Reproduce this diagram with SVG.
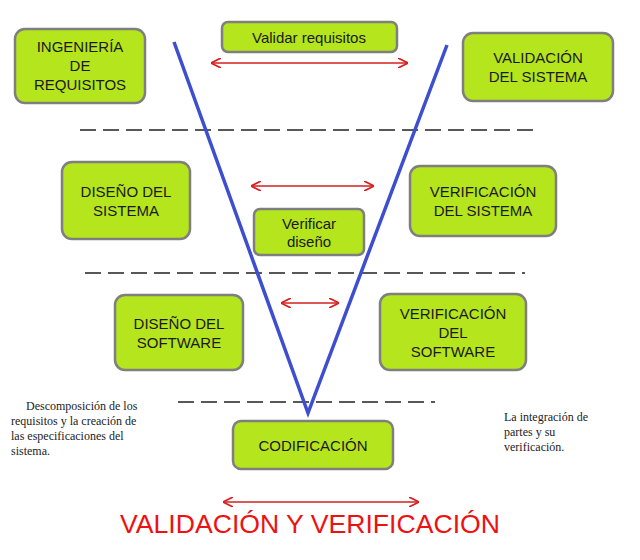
<svg xmlns="http://www.w3.org/2000/svg" width="640" height="560" viewBox="0 0 640 560">
<style>
.n{fill:#b5e51d;stroke:#7f7f7f;stroke-width:2.5}
.t{font-family:"Liberation Sans",Arial,sans-serif;font-size:15px;text-anchor:middle;fill:#1a1a1a}
.d{stroke:#222;stroke-width:1.3;stroke-dasharray:16,7;fill:none}
.a{stroke:#d42020;stroke-width:1.5;fill:none;marker-start:url(#m);marker-end:url(#m)}
.s{font-family:"Liberation Serif","Times New Roman",serif;font-size:12px;fill:#222}
</style>
<defs><marker id="m" viewBox="0 0 10 10" refX="9" refY="5" markerWidth="7" markerHeight="7" orient="auto-start-reverse"><path d="M0,0L10,5L0,10" fill="none" stroke="#d42020" stroke-width="1.6"/></marker></defs>
<rect width="640" height="560" fill="#fff"/>
<g id="connectors">
<path class="d" d="M80,130H535"/>
<path class="d" d="M85,273H525"/>
<path class="d" d="M178,402H435"/>
<path d="M174,42L308,413L447,45" fill="none" stroke="#3d4fd0" stroke-width="3.5"/>
<path class="a" d="M212,63H407"/>
<path class="a" d="M252,186H373"/>
<path class="a" d="M282,303H338"/>
<path class="a" d="M224,502H418"/>
</g>
<g id="n1"><rect class="n" x="15" y="29" width="130" height="74" rx="10"/><text class="t" y="52"><tspan x="80">INGENIERÍA</tspan><tspan x="80" dy="19">DE</tspan><tspan x="80" dy="19">REQUISITOS</tspan></text></g>
<g id="n2"><rect class="n" x="222" y="22" width="175" height="30" rx="6"/><text class="t" x="309" y="43">Validar requisitos</text></g>
<g id="n3"><rect class="n" x="463" y="33" width="150" height="68" rx="10"/><text class="t" y="63"><tspan x="538">VALIDACIÓN</tspan><tspan x="538" dy="19">DEL SISTEMA</tspan></text></g>
<g id="n4"><rect class="n" x="62" y="162" width="128" height="77" rx="10"/><text class="t" y="197"><tspan x="126">DISEÑO DEL</tspan><tspan x="126" dy="19">SISTEMA</tspan></text></g>
<g id="n5"><rect class="n" x="254" y="209" width="110" height="46" rx="6"/><text class="t" y="229"><tspan x="309">Verificar</tspan><tspan x="309" dy="18">diseño</tspan></text></g>
<g id="n6"><rect class="n" x="410" y="166" width="146" height="70" rx="10"/><text class="t" y="197"><tspan x="483">VERIFICACIÓN</tspan><tspan x="483" dy="19">DEL SISTEMA</tspan></text></g>
<g id="n7"><rect class="n" x="115" y="295" width="128" height="75" rx="10"/><text class="t" y="329"><tspan x="179">DISEÑO DEL</tspan><tspan x="179" dy="19">SOFTWARE</tspan></text></g>
<g id="n8"><rect class="n" x="380" y="294" width="146" height="76" rx="10"/><text class="t" y="319"><tspan x="453">VERIFICACIÓN</tspan><tspan x="453" dy="19">DEL</tspan><tspan x="453" dy="19">SOFTWARE</tspan></text></g>
<g id="n9"><rect class="n" x="233" y="421" width="160" height="48" rx="8"/><text class="t" x="313" y="451">CODIFICACIÓN</text></g>
<text class="s"><tspan x="26" y="410">Descomposición de los</tspan><tspan x="11" dy="15">requisitos y la creación de</tspan><tspan x="11" dy="15">las especificaciones del</tspan><tspan x="11" dy="15">sistema.</tspan></text>
<text class="s"><tspan x="504" y="421">La integración de</tspan><tspan x="504" dy="15">partes y su</tspan><tspan x="504" dy="15">verificación.</tspan></text>
<text x="310" y="533" font-family="Liberation Sans,Arial,sans-serif" font-size="26" fill="#ee1111" text-anchor="middle" textLength="380" lengthAdjust="spacingAndGlyphs">VALIDACIÓN Y VERIFICACIÓN</text>
</svg>
